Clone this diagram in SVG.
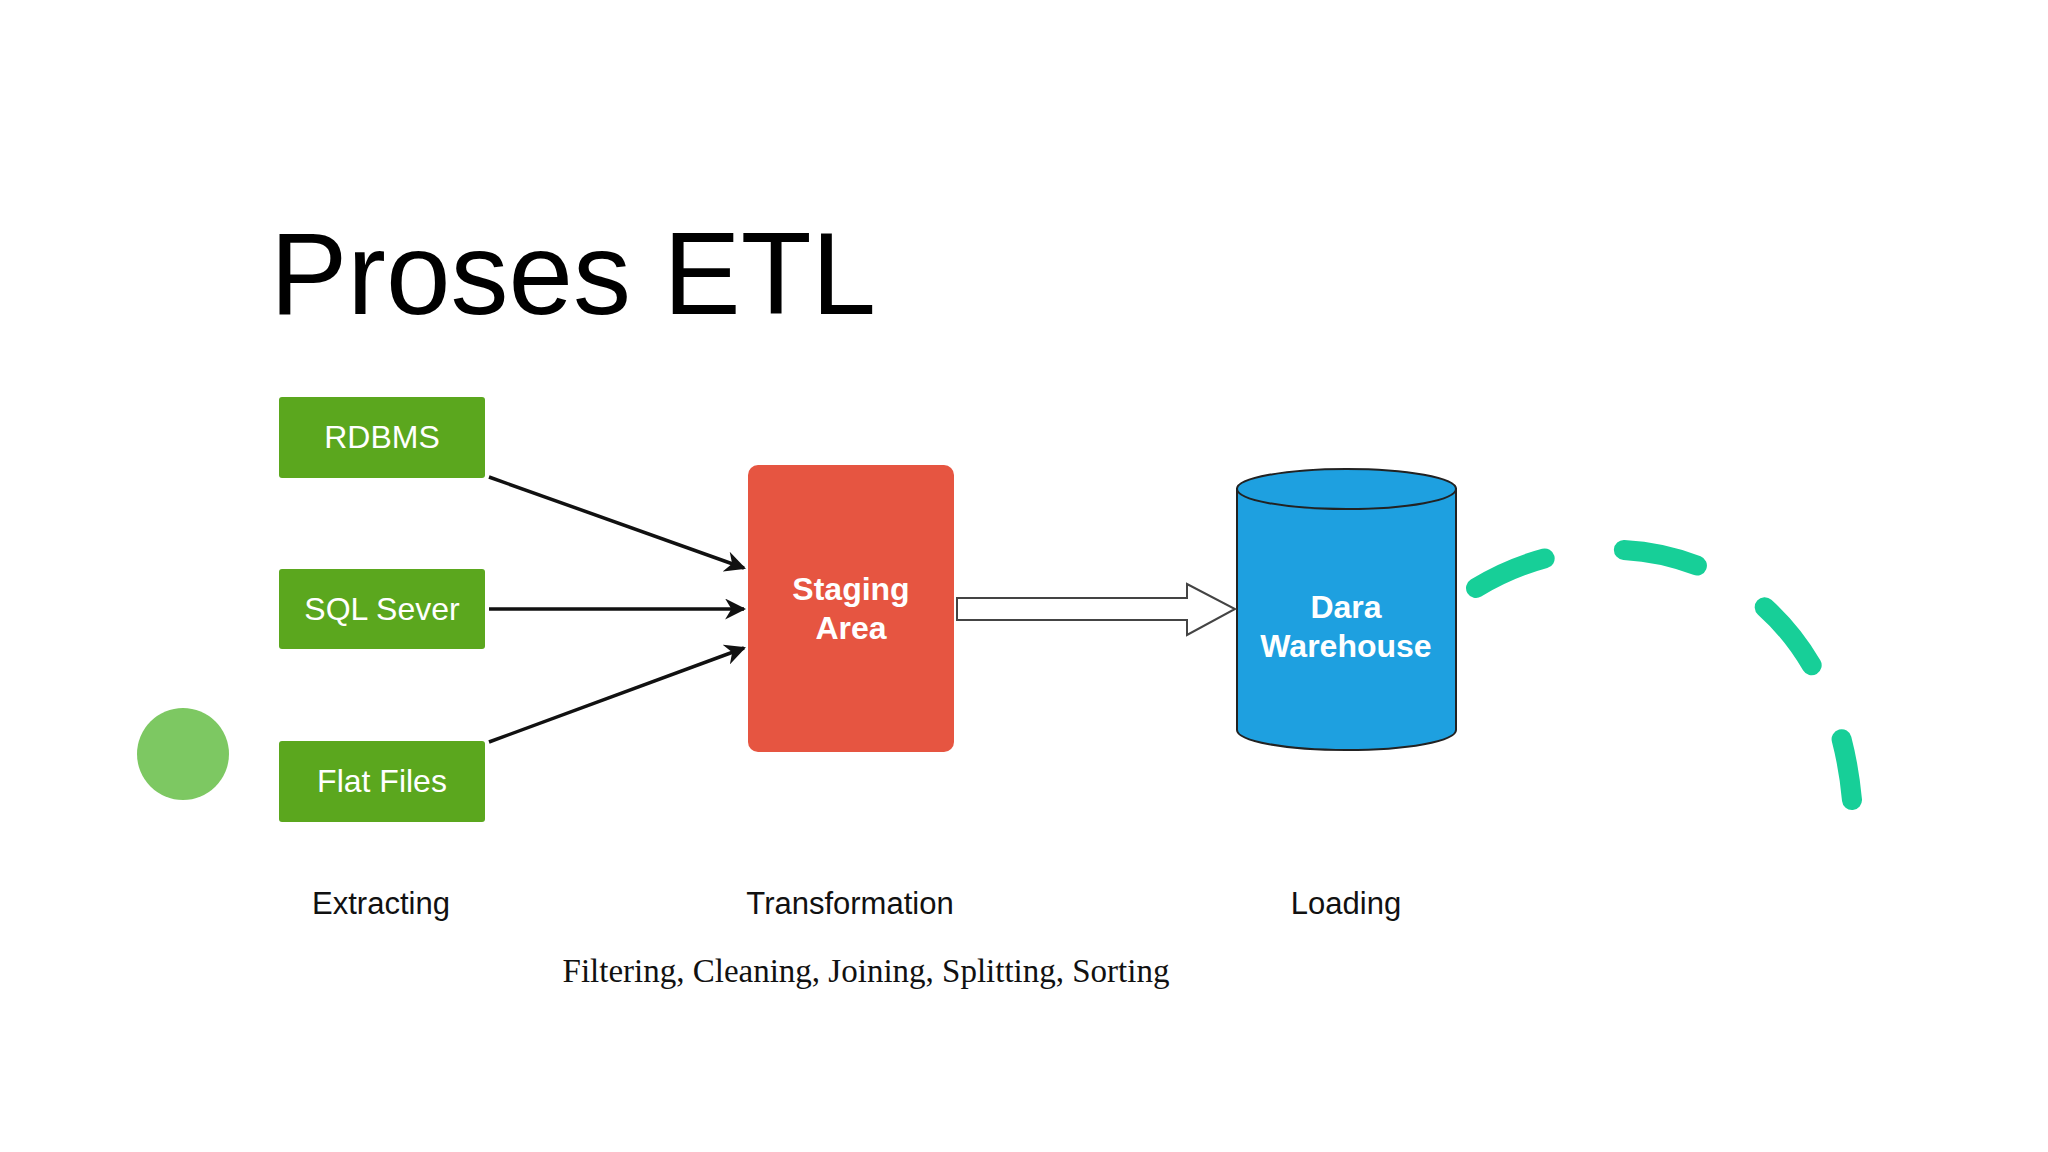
<svg xmlns="http://www.w3.org/2000/svg" width="2048" height="1152" viewBox="0 0 2048 1152">
<defs>
<style>
.src{fill:#5ba71e;}
.w{fill:#fff;font-family:"Liberation Sans",Arial,sans-serif;font-size:32px;text-anchor:middle;}
.b{font-weight:bold;}
.lbl{fill:#111;font-family:"Liberation Sans",Arial,sans-serif;font-size:31px;text-anchor:middle;}
.con{stroke:#111;stroke-width:3.5;fill:none;marker-end:url(#ah);}
</style>
<marker id="ah" viewBox="0 0 10 10" refX="9" refY="5" markerWidth="6" markerHeight="6" orient="auto" markerUnits="strokeWidth"><path d="M0,0 L10,5 L0,10 L3,5 z" fill="#111"/></marker>
</defs>
<rect width="2048" height="1152" fill="#fff"/>
<text x="270" y="314" font-family="'Liberation Sans',Arial,sans-serif" font-size="116" fill="#000">Proses ETL</text>
<circle id="dot" cx="183" cy="754" r="46" fill="#7dc862"/>
<g id="rdbms"><rect class="src" x="279" y="397" width="206" height="81" rx="3"/><text class="w" x="382" y="448">RDBMS</text></g>
<g id="sql"><rect class="src" x="279" y="569" width="206" height="80" rx="3"/><text class="w" x="382" y="620">SQL Sever</text></g>
<g id="flat"><rect class="src" x="279" y="741" width="206" height="81" rx="3"/><text class="w" x="382" y="792">Flat Files</text></g>
<g id="staging"><rect x="748" y="465" width="206" height="287" rx="10" fill="#e65541"/><text class="w b" x="851" y="600">Staging</text><text class="w b" x="851" y="639">Area</text></g>
<g id="warehouse">
<path d="M1237,489 L1237,730 A109,20 0 0 0 1456,730 L1456,489 Z" fill="#1ea0e0" stroke="#222" stroke-width="2"/>
<ellipse cx="1346.5" cy="489" rx="109.5" ry="20" fill="#1ea0e0" stroke="#222" stroke-width="2"/>
<text class="w b" x="1346" y="618">Dara</text><text class="w b" x="1346" y="657">Warehouse</text></g>
<g id="connectors">
<line class="con" x1="489" y1="477" x2="744" y2="568"/>
<line class="con" x1="489" y1="609" x2="744" y2="609"/>
<line class="con" x1="489" y1="742" x2="744" y2="648"/>
<path d="M957,598 L1187,598 L1187,584 L1235,609 L1187,635 L1187,620 L957,620 Z" fill="#fff" stroke="#444" stroke-width="2"/>
</g>
<path d="M1476,588 C1620,500 1830,560 1852,800" fill="none" stroke="#17cf98" stroke-width="20" stroke-linecap="round" stroke-dasharray="75 80"/>
<text class="lbl" x="381" y="914">Extracting</text>
<text class="lbl" x="850" y="914">Transformation</text>
<text class="lbl" x="1346" y="914">Loading</text>
<text x="866" y="982" font-family="'Liberation Serif','Times New Roman',serif" font-size="33" text-anchor="middle" fill="#111">Filtering, Cleaning, Joining, Splitting, Sorting</text>
</svg>
